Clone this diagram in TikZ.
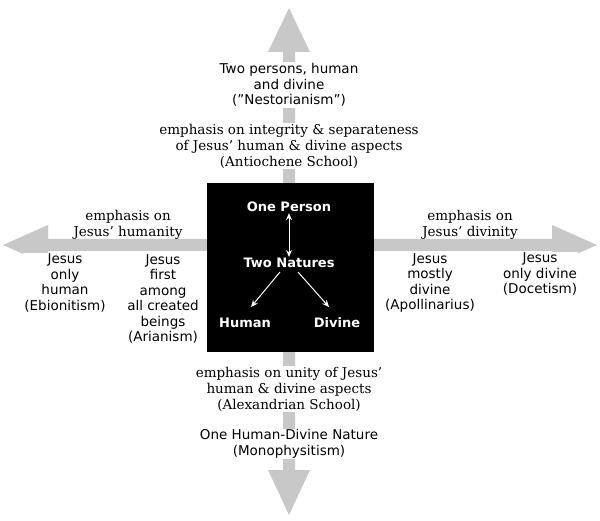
\documentclass[tikz,border=0pt]{standalone}
\usepackage{fontspec}
\setmainfont{DejaVu Serif}
\setsansfont{DejaVu Sans}
\usetikzlibrary{arrows.meta}
\definecolor{arrowgray}{RGB}{200,200,200}
\tikzset{
  sanslbl/.style={font=\sffamily\fontsize{13.5}{15.5}\selectfont, align=center, fill=white, inner sep=1pt},
  seriflbl/.style={font=\fontsize{13.5}{16}\selectfont, align=center, fill=white, inner sep=1pt},
  boxlbl/.style={font=\sffamily\bfseries\fontsize{13}{15}\selectfont, text=white, inner sep=1pt},
  warrow/.style={white, line width=1pt, -{Stealth[length=7pt,width=6pt]}}
}
\begin{document}
\begin{tikzpicture}[x=1pt,y=-1pt]
\useasboundingbox (0,0) rectangle (600,521);
% gray arrows
\fill[arrowgray] (283,52) -- (268,52) -- (289,8) -- (310,52) -- (295,52) -- (295,470) -- (310,470) -- (289,515) -- (268,470) -- (283,470) -- cycle;
\fill[arrowgray] (48,239) -- (48,225) -- (3,245) -- (48,265) -- (48,251) -- (552,251) -- (552,265) -- (597,245) -- (552,225) -- (552,239) -- cycle;
% box
\fill[black] (207,183) rectangle (374,352);
\node[boxlbl] (op) at (289,207) {One Person};
\node[boxlbl] (tn) at (289,263) {Two Natures};
\node[boxlbl] (hu) at (245,323) {Human};
\node[boxlbl] (di) at (337,323) {Divine};
\draw[white, line width=1pt, {Stealth[length=7pt,width=6pt]}-{Stealth[length=7pt,width=6pt]}] (op) -- (tn);
\coordinate (a1) at (280,272);
\coordinate (a2) at (298,272);
\coordinate (h1) at (251,307);
\coordinate (d1) at (329,307);
\draw[warrow] (a1) -- (h1);
\draw[warrow] (a2) -- (d1);
% labels
\node[sanslbl] (nest) at (289,85) {Two persons, human\\and divine\\(”Nestorianism”)};
\node[seriflbl] (anti) at (289,146) {emphasis on integrity \& separateness\\of Jesus’ human \& divine aspects\\(Antiochene School)};
\node[seriflbl, fill=none] (hum) at (128,225) {emphasis on\\Jesus’ humanity};
\node[seriflbl, fill=none] (div) at (470,225) {emphasis on\\Jesus’ divinity};
\node[sanslbl] (ebi) at (65,283) {Jesus\\only\\human\\(Ebionitism)};
\node[sanslbl] (ari) at (163,299) {Jesus\\first\\among\\all created\\beings\\(Arianism)};
\node[sanslbl] (apo) at (430,283) {Jesus\\mostly\\divine\\(Apollinarius)};
\node[sanslbl] (doc) at (540,274) {Jesus\\only divine\\(Docetism)};
\node[seriflbl] (alex) at (289,389) {emphasis on unity of Jesus’\\human \& divine aspects\\(Alexandrian School)};
\node[sanslbl] (mono) at (289,444) {One Human-Divine Nature\\(Monophysitism)};
\end{tikzpicture}
\end{document}
